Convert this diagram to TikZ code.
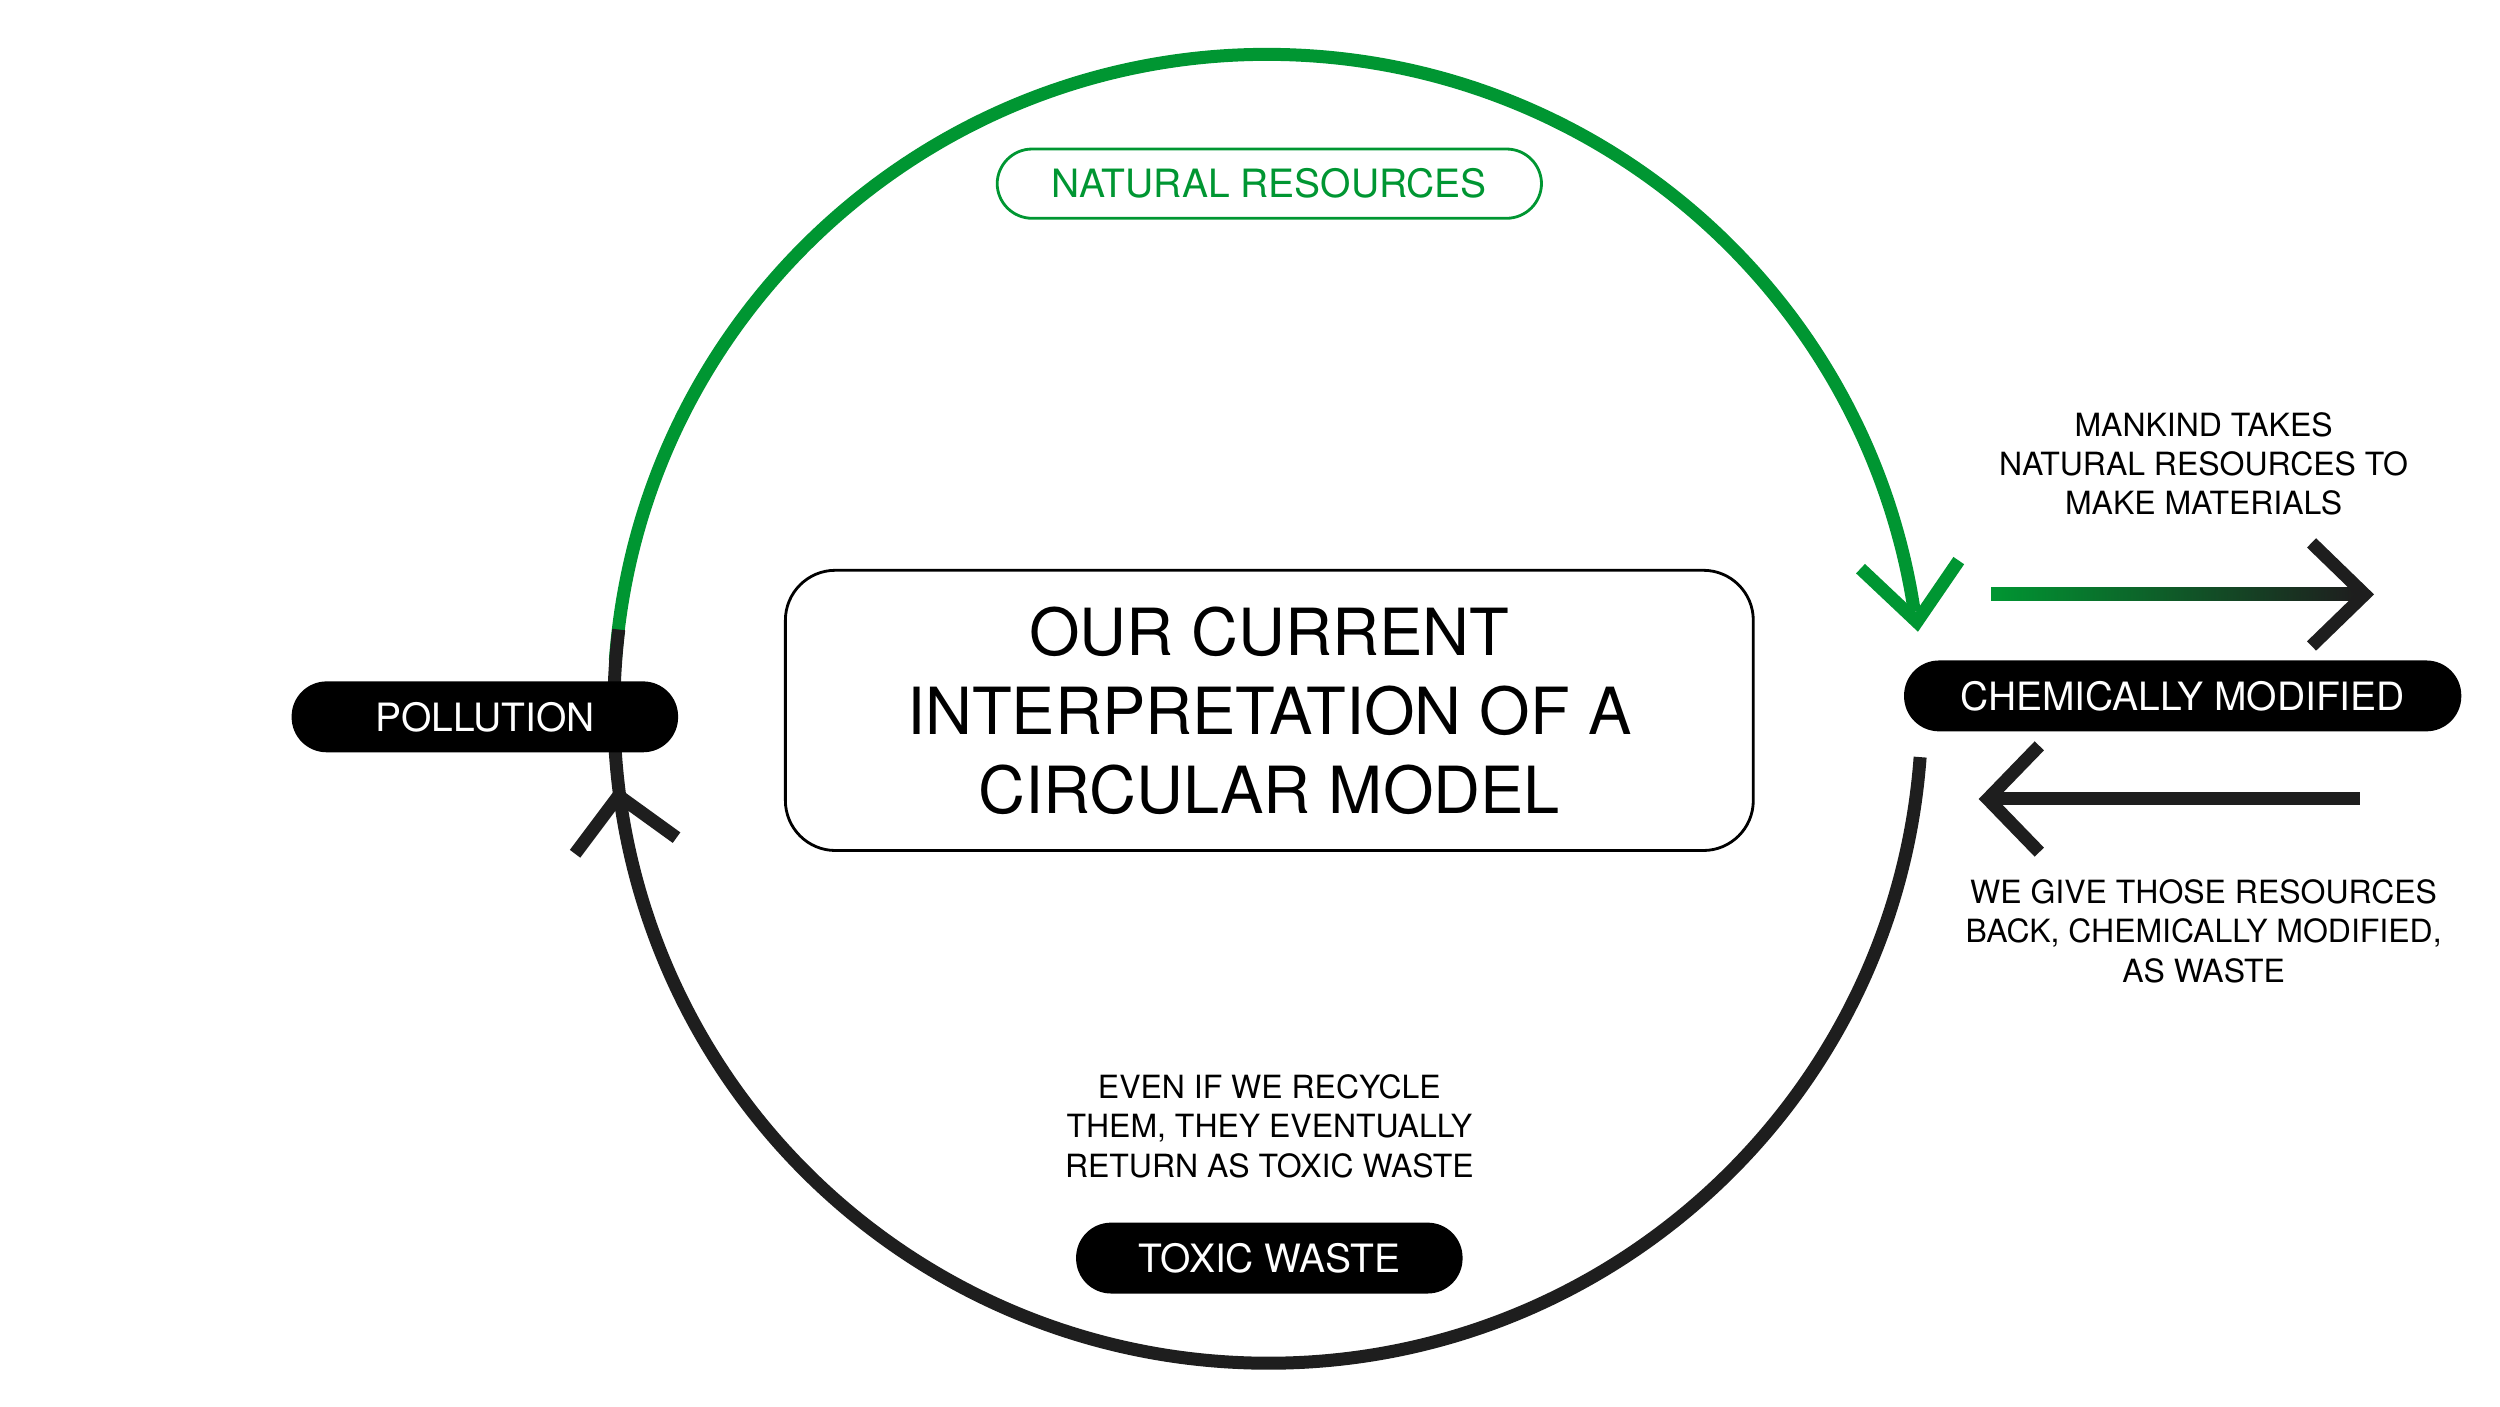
\documentclass[tikz,border=0pt]{standalone}
\usepackage{fontspec}
\setmainfont{TeX Gyre Heros}
\definecolor{gr}{RGB}{0,150,50}
\definecolor{dk}{RGB}{30,30,30}
\begin{document}
\begin{tikzpicture}[x=0.01611cm,y=-0.01611cm,
  pill/.style={fill=black,text=white,rounded corners=0.35cm,font=\fontsize{11.1}{13}\selectfont,inner sep=0pt},
  lab/.style={font=\fontsize{9.1}{11.2}\selectfont,align=center},
  thick line/.style={line width=0.13cm},
  chev/.style={line width=0.13cm,line join=miter,line cap=butt}]
\useasboundingbox (0,0) rectangle (1552,873);
% circle arcs
\draw[thick line,gr] (382,410) arc[start angle=-175.8,end angle=-8.5,radius=406];
\draw[thick line,dk] (1192,470) arc[start angle=4.2,end angle=187,radius=406];
% chevrons on circle
\coordinate (gtip) at (1190,386);
\draw[chev,gr] (1155,353) -- (gtip) -- (1216,348);
\coordinate (btip) at (384,494);
\draw[chev,dk] (357,530) -- (btip) -- (420,520);
% nodes
\node[pill,minimum width=3.866cm,minimum height=0.709cm] (pol) at (301,445) {POLLUTION};
\node[pill,minimum width=5.574cm,minimum height=0.709cm] (chem) at (1355,432) {CHEMICALLY MODIFIED};
\node[pill,minimum width=3.866cm,minimum height=0.709cm] (tox) at (788,781) {TOXIC WASTE};
\node[draw=gr,line width=0.8pt,text=gr,rounded corners=0.35cm,minimum width=5.445cm,minimum height=0.693cm,inner sep=0pt,font=\fontsize{11.1}{13}\selectfont] (nat) at (788,114) {NATURAL RESOURCES};
\node[draw=black,line width=0.8pt,rounded corners=0.5cm,minimum width=9.682cm,minimum height=2.803cm,inner sep=0pt,align=center,font=\fontsize{18.5}{22.5}\selectfont] (main) at (788,441) {OUR CURRENT\\INTERPRETATION OF A\\CIRCULAR MODEL};
% labels
\node[lab] (t1) at (1368,288) {MANKIND TAKES\\NATURAL RESOURCES TO\\MAKE MATERIALS};
\node[lab] (t2) at (1368,578) {WE GIVE THOSE RESOURCES\\BACK, CHEMICALLY MODIFIED,\\AS WASTE};
\node[lab] (t3) at (788,699) {EVEN IF WE RECYCLE\\THEM, THEY EVENTUALLY\\RETURN AS TOXIC WASTE};
% right arrows
\coordinate (a1e) at (1468,369);
\shade[left color=gr,right color=dk] (1236,365) rectangle (1462,373);
\draw[chev,dk] (1435,337) -- (a1e) -- (1435,401);
\coordinate (a2s) at (1465,496);
\coordinate (a2e) at (1234,496);
\draw[thick line,dk] (a2s) -- (1240,496);
\draw[chev,dk] (1266,463) -- (a2e) -- (1266,529);
\end{tikzpicture}
\end{document}
